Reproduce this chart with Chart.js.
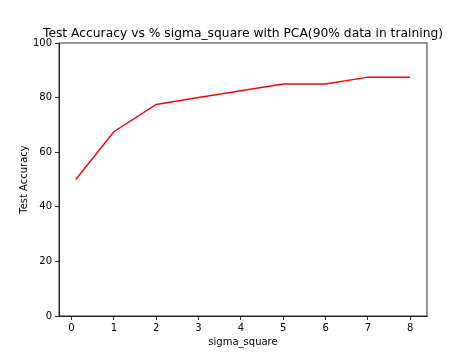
<!DOCTYPE html>
<html lang="en">
<head>
  <meta charset="UTF-8">
  <title>Test Accuracy vs sigma_square</title>
  <script src="https://cdn.jsdelivr.net/npm/chart.js"></script>
  <style>
    html, body { margin: 0; padding: 0; background: #fff; }
    #wrap { width: 474px; height: 355px; }
  </style>
</head>
<body>
<div id="wrap"><canvas id="accChart"></canvas></div>
<script>
  const sigmaSquare = [0.1, 1, 2, 3, 4, 5, 6, 7, 8];
  const testAccuracy = [50, 67.5, 77.5, 80, 82.5, 85, 85, 87.5, 87.5];
  const xTicks = [0, 1, 2, 3, 4, 5, 6, 7, 8];
  const yTicks = [0, 20, 40, 60, 80, 100];
  const chartTitle = 'Test Accuracy vs % sigma_square with PCA(90% data in training)';

  // box around the plot area + title centred over it, like matplotlib
  const frame = {
    id: 'frame',
    afterDatasetsDraw(chart) {
      const a = chart.chartArea;
      const ctx = chart.ctx;
      ctx.save();
      ctx.strokeStyle = '#000';
      ctx.lineWidth = 0.8;
      ctx.strokeRect(a.left, a.top, a.right - a.left, a.bottom - a.top);
      ctx.fillStyle = '#000';
      ctx.font = '12.3px "DejaVu Sans"';
      ctx.textAlign = 'center';
      ctx.textBaseline = 'alphabetic';
      ctx.fillText(chartTitle, (a.left + a.right) / 2, a.top - 6);
      ctx.restore();
    }
  };

  const font = { family: 'DejaVu Sans', size: 10 };

  new Chart(document.getElementById('accChart'), {
    type: 'line',
    data: {
      datasets: [{
        data: sigmaSquare.map((x, i) => ({ x: x, y: testAccuracy[i] })),
        borderColor: 'red',
        borderWidth: 1.5,
        pointRadius: 0,
        tension: 0,
        fill: false
      }]
    },
    options: {
      responsive: true,
      maintainAspectRatio: false,
      animation: false,
      layout: { padding: { left: 0, right: 47, top: 43, bottom: 0 } },
      plugins: {
        legend: { display: false },
        tooltip: { enabled: false },
        title: { display: false }
      },
      scales: {
        x: {
          type: 'linear',
          min: -0.295,
          max: 8.395,
          afterBuildTicks: s => { s.ticks = xTicks.map(v => ({ value: v })); },
          afterFit: s => { s.height = 39; },
          ticks: { color: '#000', font: font, padding: 2, maxRotation: 0 },
          grid: { drawOnChartArea: false, drawTicks: true, tickLength: 4, color: '#000', lineWidth: 0.8 },
          border: { display: true, color: '#000', width: 0.8 },
          title: { display: true, text: 'sigma_square', color: '#000', font: font, padding: { top: 2, bottom: 7 } }
        },
        y: {
          min: 0,
          max: 100,
          afterBuildTicks: s => { s.ticks = yTicks.map(v => ({ value: v })); },
          afterFit: s => { s.width = 59; },
          ticks: { color: '#000', font: font, padding: 3 },
          grid: { drawOnChartArea: false, drawTicks: true, tickLength: 4, color: '#000', lineWidth: 0.8 },
          border: { display: true, color: '#000', width: 0.8 },
          title: { display: true, text: 'Test Accuracy', color: '#000', font: font, padding: { top: 18, bottom: 4 } }
        }
      }
    },
    plugins: [frame]
  });
</script>
</body>
</html>
